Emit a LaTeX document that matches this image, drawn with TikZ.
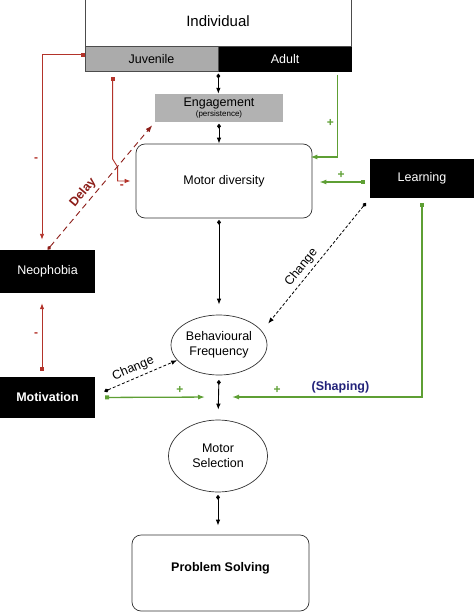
\documentclass[tikz,border=0pt]{standalone}
\usepackage{fontspec}
\setmainfont{Liberation Sans}
\usetikzlibrary{arrows.meta,shapes.geometric,positioning}
\definecolor{negred}{HTML}{B3332A}
\definecolor{delayred}{HTML}{8C1D18}
\definecolor{posgreen}{HTML}{5E9F34}
\definecolor{shapeblue}{HTML}{22227A}
\definecolor{juvgray}{HTML}{ABABAB}
\definecolor{enggray}{HTML}{B2B2B2}

\begin{document}
\begin{tikzpicture}[x=1pt,y=-1pt,font=\fontsize{12.5}{15}\selectfont,
  box/.style={rectangle,inner sep=0pt,minimum width=#1},
  darkbox/.style={rectangle,inner sep=0pt,fill=black,text=white,minimum width=#1},
  roundbox/.style={rectangle,rounded corners=9pt,draw=black!80,line width=0.7pt,inner sep=0pt,minimum width=#1},
  oval/.style={ellipse,draw=black!80,line width=0.7pt,inner sep=0pt,align=center},
  link/.style={line width=0.9pt,arrows={Diamond[length=5pt,width=4pt]-Latex[length=6pt,width=4.5pt]},shorten <=1.5pt},
  change/.style={line width=0.8pt,dash pattern=on 3pt off 2pt,arrows={Diamond[length=5pt,width=4pt]-Latex[length=6pt,width=4.5pt]}},
  pluslink/.style={draw=posgreen,line width=1.3pt,arrows={Square[length=4pt,width=4pt]-Latex[length=7pt,width=5pt]}},
  neglink/.style={draw=negred,line width=0.9pt,arrows={Square[length=4pt,width=4pt]-Latex[length=6pt,width=4.5pt]}},
  sign/.style={font=\bfseries\fontsize{12}{13}\selectfont}
]
\useasboundingbox (0,0) rectangle (474,612);

% boxes
\node[box=266pt,minimum height=49pt,draw=black!70,line width=0.7pt,font=\fontsize{15}{18}\selectfont] (indiv) at (218,21.5) {Individual};
\node[box=133pt,minimum height=25pt,fill=juvgray,draw=black!70,line width=0.7pt,anchor=north west] (juv) at (indiv.south west) {Juvenile};
\node[darkbox=133pt,minimum height=25pt,right=0pt of juv] (adult) {Adult};
\node[box=128pt,minimum height=28pt,fill=enggray,align=center] (engage) at (219,108) {Engagement\\[-5pt]{\fontsize{8}{9}\selectfont (persistence)}};
\node[roundbox=176pt,minimum height=74pt] (motordiv) at (224,181) {Motor diversity};
\node[darkbox=104pt,minimum height=39pt] (learn) at (422,178.5) {Learning};
\node[darkbox=95pt,minimum height=43pt] (neo) at (47.5,271.5) {Neophobia};
\node[darkbox=95pt,minimum height=41pt,font=\bfseries\fontsize{12.5}{15}\selectfont] (motiv) at (47.5,397.5) {Motivation};
\node[oval,minimum width=96pt,minimum height=60pt] (behav) at (219,345) {Behavioural\\Frequency};
\node[oval,minimum width=99pt,minimum height=72pt] (motsel) at (218,456) {Motor\\Selection};
\node[roundbox=177pt,minimum height=76pt,text depth=12pt,font=\bfseries\fontsize{12.5}{15}\selectfont] (problem) at (220.5,573) {Problem Solving};
\coordinate (merge) at (218,397);

% main chain
\draw[link] (juv.south east) -- (juv.south east |- engage.north);
\draw[link] (engage.south) -- (engage.south |- motordiv.north);
\draw[link,shorten >=10pt] (motordiv.south -| engage.south) -- (behav.north);
\draw[link,shorten <=4.5pt,shorten >=10pt] (behav.south) -- (motsel.north);
\draw[link,shorten <=2.5pt,shorten >=9pt] (motsel.south) -- (motsel.south |- problem.north);

% positive links
\draw[pluslink,shorten <=10pt,shorten >=13pt] (motiv.east) -- (merge)
  node[pos=.69,above,sign,text=posgreen] {+};
\draw[pluslink,shorten <=5pt,shorten >=14pt] (learn.south) |- (merge)
  node[pos=.855,above,sign,text=posgreen] {+}
  node[pos=.7,above,font=\bfseries\fontsize{12.5}{15}\selectfont,text=shapeblue] {(Shaping)};
\draw[pluslink,arrows=-{Latex[length=7pt,width=5pt]},shorten <=3pt,shorten >=-2pt] ([xshift=-14pt]adult.south east) |- ([yshift=24pt]motordiv.east)
  node[pos=.3,left,sign,text=posgreen] {+};
\draw[pluslink,shorten <=5pt,shorten >=7pt] ([yshift=-3.5pt]learn.west) -- ([yshift=-3.5pt]learn.west -| motordiv.east)
  node[midway,above,sign,text=posgreen] {+};

% change links
\draw[change,shorten <=6pt] (learn.south west) -- ([xshift=15pt]behav.north east)
  node[pos=.6,above,sloped] {Change};
\draw[change] ([shift={(9pt,6pt)}]motiv.east) -- (behav.200)
  node[pos=.45,above,sloped] {Change};

% negative links
\draw[neglink,shorten >=10pt] ([yshift=4.5pt]juv.west) -| ([xshift=-5.5pt]neo.north)
  node[pos=.77,left,sign,text=negred] {-};
\draw[neglink,shorten <=6pt,shorten >=10pt] ([xshift=-5.5pt]motiv.north) -- ([xshift=-5.5pt]neo.south)
  node[midway,left,sign,text=negred] {-};
\draw[neglink,shorten <=5pt,shorten >=5pt] ([xshift=28pt]juv.south west) -- ++(0,87) -- ++(5,8) |- (motordiv.west)
  node[pos=.62,below,sign,text=negred] {-};

% delay
\draw[draw=delayred,line width=0.9pt,dash pattern=on 6pt off 4pt,arrows={Diamond[length=5pt,width=4pt]-Latex[length=7pt,width=5pt]},shorten >=4pt] (neo.north) -- (engage.south west)
  node[pos=.4,above,sloped,text=delayred,font=\bfseries\fontsize{12.5}{15}\selectfont] {Delay};
\end{tikzpicture}
\end{document}
